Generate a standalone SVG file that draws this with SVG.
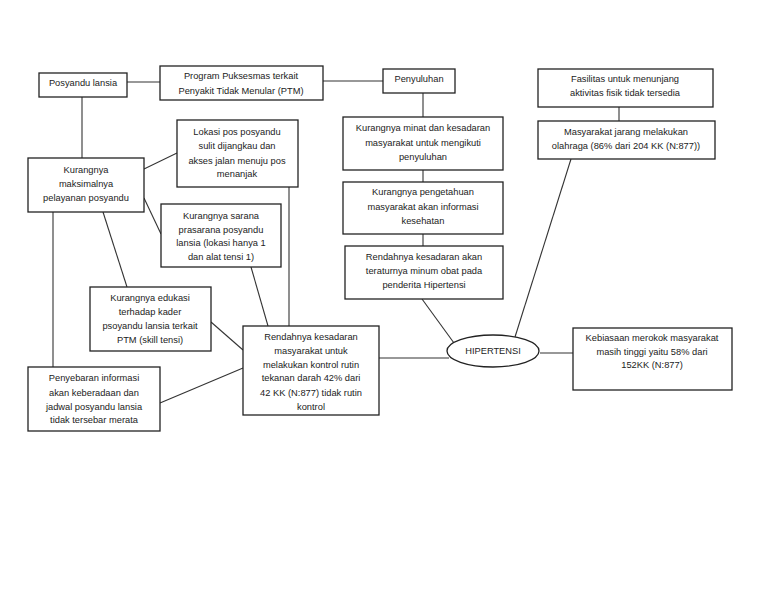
<svg xmlns="http://www.w3.org/2000/svg" width="768" height="594" viewBox="0 0 768 594">
<style>
rect.b{fill:#fff;stroke:#222;stroke-width:1.3}
ellipse.b{fill:#fff;stroke:#222;stroke-width:1.3}
#connectors line{stroke:#333;stroke-width:1.1}
text{font-family:"Liberation Sans",Arial,sans-serif;font-size:9.3px;fill:#222;text-anchor:middle}
</style>
<rect width="768" height="594" fill="#fff"/>
<g id="connectors">
<line x1="127" y1="82" x2="160" y2="82"/>
<line x1="323" y1="81" x2="383" y2="81"/>
<line x1="423" y1="93" x2="423" y2="117"/>
<line x1="423" y1="170" x2="423" y2="182"/>
<line x1="423" y1="234" x2="423" y2="246"/>
<line x1="619" y1="107" x2="619" y2="121"/>
<line x1="82" y1="97" x2="82" y2="158"/>
<line x1="144" y1="169" x2="177" y2="153"/>
<line x1="144" y1="198" x2="161" y2="234"/>
<line x1="103" y1="212" x2="127" y2="287"/>
<line x1="53" y1="212" x2="53" y2="367"/>
<line x1="251" y1="267" x2="268" y2="326"/>
<line x1="289" y1="187" x2="289" y2="326"/>
<line x1="211" y1="322" x2="243" y2="350"/>
<line x1="160" y1="403" x2="243" y2="368"/>
<line x1="379" y1="358" x2="449" y2="358"/>
<line x1="422" y1="299" x2="454" y2="343"/>
<line x1="571" y1="159" x2="515" y2="337"/>
<line x1="540" y1="353" x2="573" y2="353"/>
</g>
<g id="posyandu-lansia"><rect class="b" x="39" y="73" width="88" height="24"/><text x="83" y="86">Posyandu lansia</text></g>
<g id="program"><rect class="b" x="160" y="66" width="163" height="34"/><text x="241" y="79">Program Puksesmas terkait</text><text x="241" y="94">Penyakit Tidak Menular (PTM)</text></g>
<g id="penyuluhan"><rect class="b" x="383" y="69" width="72" height="24"/><text x="419" y="82">Penyuluhan</text></g>
<g id="kurang-minat"><rect class="b" x="343" y="117" width="160" height="53"/><text x="423" y="131">Kurangnya minat dan kesadaran</text><text x="423" y="146">masyarakat untuk mengikuti</text><text x="423" y="160">penyuluhan</text></g>
<g id="kurang-pengetahuan"><rect class="b" x="343" y="182" width="160" height="52"/><text x="423" y="195">Kurangnya  pengetahuan</text><text x="423" y="210">masyarakat akan informasi</text><text x="423" y="224">kesehatan</text></g>
<g id="rendah-obat"><rect class="b" x="345" y="246" width="158" height="53"/><text x="424" y="260">Rendahnya kesadaran akan</text><text x="424" y="274">teraturnya minum obat pada</text><text x="424" y="288">penderita Hipertensi</text></g>
<g id="fasilitas"><rect class="b" x="538" y="69" width="175" height="38"/><text x="625" y="82">Fasilitas untuk menunjang</text><text x="625" y="96">aktivitas fisik tidak tersedia</text></g>
<g id="olahraga"><rect class="b" x="538" y="121" width="177" height="38"/><text x="626" y="135">Masyarakat jarang melakukan</text><text x="626" y="149">olahraga (86% dari 204 KK (N:877))</text></g>
<g id="lokasi"><rect class="b" x="177" y="120" width="121" height="67"/><text x="237" y="135">Lokasi pos posyandu</text><text x="237" y="149">sulit dijangkau dan</text><text x="237" y="164">akses jalan menuju pos</text><text x="237" y="177">menanjak</text></g>
<g id="sarana"><rect class="b" x="161" y="204" width="120" height="63"/><text x="221" y="219">Kurangnya sarana</text><text x="221" y="233">prasarana posyandu</text><text x="221" y="246">lansia (lokasi hanya 1</text><text x="221" y="260">dan alat tensi 1)</text></g>
<g id="maksimal"><rect class="b" x="28" y="158" width="116" height="54"/><text x="86" y="173">Kurangnya</text><text x="86" y="187">maksimalnya</text><text x="86" y="201">pelayanan posyandu</text></g>
<g id="edukasi"><rect class="b" x="90" y="287" width="121" height="64"/><text x="150" y="301">Kurangnya edukasi</text><text x="150" y="315">terhadap kader</text><text x="150" y="329">psoyandu lansia terkait</text><text x="150" y="343">PTM (skill tensi)</text></g>
<g id="penyebaran"><rect class="b" x="28" y="367" width="132" height="64"/><text x="94" y="381">Penyebaran informasi</text><text x="94" y="396">akan keberadaan  dan</text><text x="94" y="410">jadwal posyandu lansia</text><text x="94" y="423">tidak tersebar merata</text></g>
<g id="rendah-kontrol"><rect class="b" x="243" y="326" width="136" height="89"/><text x="311" y="340">Rendahnya  kesadaran</text><text x="311" y="354">masyarakat untuk</text><text x="311" y="368">melakukan kontrol rutin</text><text x="311" y="381">tekanan darah 42%  dari</text><text x="311" y="396">42 KK (N:877) tidak rutin</text><text x="311" y="410">kontrol</text></g>
<g id="hipertensi"><ellipse class="b" cx="493" cy="351" rx="46" ry="16"/><text x="493" y="354">HIPERTENSI</text></g>
<g id="merokok"><rect class="b" x="573" y="328" width="159" height="62"/><text x="652" y="341">Kebiasaan merokok masyarakat</text><text x="652" y="355">masih tinggi  yaitu 58% dari</text><text x="652" y="368">152KK (N:877)</text></g>
</svg>
